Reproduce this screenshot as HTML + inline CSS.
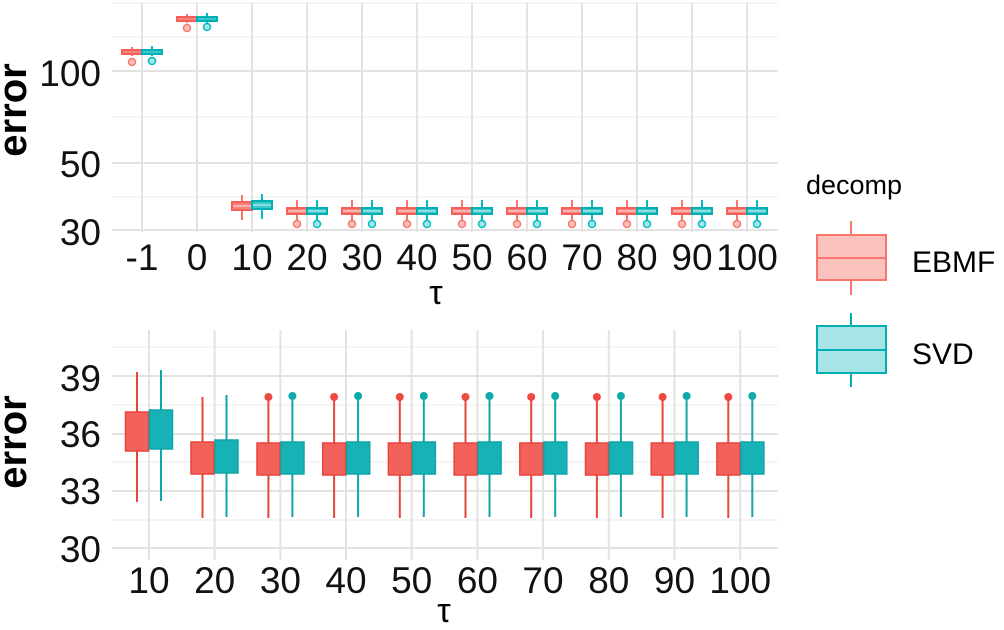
<!DOCTYPE html>
<html><head><meta charset="utf-8"><style>
html,body{margin:0;padding:0;background:#fff}
svg{display:block}
text{font-family:"Liberation Sans",sans-serif}
</style></head><body>
<svg width="1004" height="630" viewBox="0 0 1004 630" xmlns="http://www.w3.org/2000/svg">
<defs>
<g id="t20">
 <line x1="297" y1="200" x2="297" y2="220" stroke="#F8766D" stroke-width="2"/>
 <rect x="287" y="208" width="20" height="6" fill="#F7837B" stroke="#F5605A" stroke-width="2"/>
 <line x1="288" y1="211" x2="306" y2="211" stroke="#FBC1BD" stroke-width="1.5"/>
 <circle cx="297" cy="224" r="3.5" fill="#FBC1BD" stroke="#F8766D" stroke-width="1.5"/>
 <line x1="317" y1="200" x2="317" y2="220" stroke="#00BFC4" stroke-width="2"/>
 <rect x="307" y="208" width="20" height="6" fill="#3CC8CB" stroke="#00AFB3" stroke-width="2"/>
 <line x1="308" y1="211" x2="326" y2="211" stroke="#A6E4E5" stroke-width="1.5"/>
 <circle cx="317" cy="224" r="3.5" fill="#A6E4E5" stroke="#00BFC4" stroke-width="1.5"/>
</g>
<g id="b30">
 <line x1="268.4" y1="397" x2="268.4" y2="518" stroke="#E8453D" stroke-width="2"/>
 <rect x="257" y="443" width="23" height="32" fill="#F2625A" stroke="#E8453D" stroke-width="1.5"/>
 <circle cx="268.4" cy="397" r="4" fill="#EE4A42"/>
 <line x1="292.4" y1="396" x2="292.4" y2="517" stroke="#10A5A8" stroke-width="2"/>
 <rect x="281" y="442" width="23" height="32" fill="#17B2B5" stroke="#10A5A8" stroke-width="1.5"/>
 <circle cx="292.4" cy="396" r="4" fill="#10A9AC"/>
</g>
</defs>
<g stroke="#EBEBEB" stroke-width="1">
 <line x1="112" y1="3" x2="778" y2="3"/><line x1="112" y1="37" x2="778" y2="37"/><line x1="112" y1="117" x2="778" y2="117"/><line x1="112" y1="197" x2="778" y2="197"/>
</g>
<g stroke="#E3E3E3" stroke-width="2">
 <line x1="112" y1="71" x2="778" y2="71"/><line x1="112" y1="163" x2="778" y2="163"/><line x1="112" y1="230" x2="778" y2="230"/>
 <line x1="142" y1="3" x2="142" y2="232"/><line x1="197" y1="3" x2="197" y2="232"/><line x1="252" y1="3" x2="252" y2="232"/><line x1="307" y1="3" x2="307" y2="232"/><line x1="362" y1="3" x2="362" y2="232"/><line x1="417" y1="3" x2="417" y2="232"/><line x1="472" y1="3" x2="472" y2="232"/><line x1="527" y1="3" x2="527" y2="232"/><line x1="582" y1="3" x2="582" y2="232"/><line x1="637" y1="3" x2="637" y2="232"/><line x1="692" y1="3" x2="692" y2="232"/><line x1="747" y1="3" x2="747" y2="232"/>
</g>
<g>
 <line x1="132" y1="47" x2="132" y2="56" stroke="#F8766D" stroke-width="2"/>
 <rect x="122" y="50" width="20" height="4" fill="#F7837B" stroke="#F5605A" stroke-width="2"/>
 <circle cx="132" cy="62" r="3.5" fill="#FBC1BD" stroke="#F8766D" stroke-width="1.5"/>
 <line x1="152" y1="46" x2="152" y2="56" stroke="#00BFC4" stroke-width="2"/>
 <rect x="142" y="50" width="20" height="4" fill="#3CC8CB" stroke="#00AFB3" stroke-width="2"/>
 <circle cx="152" cy="61" r="3.5" fill="#A6E4E5" stroke="#00BFC4" stroke-width="1.5"/>
 <line x1="187" y1="14" x2="187" y2="23" stroke="#F8766D" stroke-width="2"/>
 <rect x="177" y="17" width="20" height="4" fill="#F7837B" stroke="#F5605A" stroke-width="2"/>
 <circle cx="187" cy="28" r="3.5" fill="#FBC1BD" stroke="#F8766D" stroke-width="1.5"/>
 <line x1="207" y1="13" x2="207" y2="23" stroke="#00BFC4" stroke-width="2"/>
 <rect x="197" y="17" width="20" height="4" fill="#3CC8CB" stroke="#00AFB3" stroke-width="2"/>
 <circle cx="207" cy="27" r="3.5" fill="#A6E4E5" stroke="#00BFC4" stroke-width="1.5"/>
 <line x1="242" y1="195" x2="242" y2="220" stroke="#F8766D" stroke-width="2"/>
 <rect x="232" y="202" width="20" height="8" fill="#F7837B" stroke="#F5605A" stroke-width="2"/>
 <line x1="233" y1="206" x2="251" y2="206" stroke="#FBC1BD" stroke-width="1.5"/>
 <line x1="262" y1="194" x2="262" y2="219" stroke="#00BFC4" stroke-width="2"/>
 <rect x="252" y="201" width="20" height="8" fill="#3CC8CB" stroke="#00AFB3" stroke-width="2"/>
 <line x1="253" y1="205" x2="271" y2="205" stroke="#A6E4E5" stroke-width="1.5"/>
</g>
<use href="#t20"/>
<use href="#t20" x="55"/><use href="#t20" x="110"/><use href="#t20" x="165"/><use href="#t20" x="220"/><use href="#t20" x="275"/><use href="#t20" x="330"/><use href="#t20" x="385"/><use href="#t20" x="440"/>
<g font-size="37" fill="#111" text-anchor="end">
 <text x="101" y="86">100</text><text x="101" y="177">50</text><text x="101" y="245">30</text>
</g>
<g font-size="37" fill="#111" text-anchor="middle">
 <text x="142" y="270">-1</text><text x="197" y="270">0</text><text x="252" y="270">10</text><text x="307" y="270">20</text><text x="362" y="270">30</text><text x="417" y="270">40</text><text x="472" y="270">50</text><text x="527" y="270">60</text><text x="582" y="270">70</text><text x="637" y="270">80</text><text x="692" y="270">90</text><text x="747" y="270">100</text>
</g>
<text x="436" y="304" font-size="34" text-anchor="middle" fill="#000">τ</text>
<text transform="translate(26,110) rotate(-90)" font-size="40" font-weight="bold" text-anchor="middle" fill="#000">error</text>
<g stroke="#EBEBEB" stroke-width="1">
 <line x1="112" y1="347" x2="778" y2="347"/><line x1="112" y1="405" x2="778" y2="405"/><line x1="112" y1="462" x2="778" y2="462"/><line x1="112" y1="520" x2="778" y2="520"/>
</g>
<g stroke="#E3E3E3" stroke-width="2">
 <line x1="112" y1="376" x2="778" y2="376"/><line x1="112" y1="434" x2="778" y2="434"/><line x1="112" y1="491" x2="778" y2="491"/><line x1="112" y1="548" x2="778" y2="548"/>
 <line x1="149" y1="330" x2="149" y2="560"/><line x1="214.7" y1="330" x2="214.7" y2="560"/><line x1="280.4" y1="330" x2="280.4" y2="560"/><line x1="346" y1="330" x2="346" y2="560"/><line x1="411.7" y1="330" x2="411.7" y2="560"/><line x1="477.4" y1="330" x2="477.4" y2="560"/><line x1="543" y1="330" x2="543" y2="560"/><line x1="608.8" y1="330" x2="608.8" y2="560"/><line x1="674.5" y1="330" x2="674.5" y2="560"/><line x1="740.2" y1="330" x2="740.2" y2="560"/>
</g>
<g>
 <line x1="137" y1="372" x2="137" y2="502" stroke="#E8453D" stroke-width="2"/>
 <rect x="125.5" y="412" width="23" height="39" fill="#F2625A" stroke="#E8453D" stroke-width="1.5"/>
 <line x1="161" y1="370" x2="161" y2="501" stroke="#10A5A8" stroke-width="2"/>
 <rect x="149.5" y="410" width="23" height="39" fill="#17B2B5" stroke="#10A5A8" stroke-width="1.5"/>
 <line x1="202.5" y1="397" x2="202.5" y2="518" stroke="#E8453D" stroke-width="2"/>
 <rect x="191" y="442" width="23" height="32" fill="#F2625A" stroke="#E8453D" stroke-width="1.5"/>
 <line x1="226.5" y1="395" x2="226.5" y2="517" stroke="#10A5A8" stroke-width="2"/>
 <rect x="215" y="440" width="23" height="33" fill="#17B2B5" stroke="#10A5A8" stroke-width="1.5"/>
</g>
<use href="#b30"/><use href="#b30" x="65.7"/><use href="#b30" x="131.4"/><use href="#b30" x="197.1"/><use href="#b30" x="262.8"/><use href="#b30" x="328.5"/><use href="#b30" x="394.2"/><use href="#b30" x="459.9"/>
<g font-size="37" fill="#111" text-anchor="end">
 <text x="101" y="391">39</text><text x="101" y="447">36</text><text x="101" y="504">33</text><text x="101" y="562">30</text>
</g>
<g font-size="37" fill="#111" text-anchor="middle">
 <text x="149" y="593">10</text><text x="214.7" y="593">20</text><text x="280.4" y="593">30</text><text x="346" y="593">40</text><text x="411.7" y="593">50</text><text x="477.4" y="593">60</text><text x="543" y="593">70</text><text x="608.8" y="593">80</text><text x="674.5" y="593">90</text><text x="740.2" y="593">100</text>
</g>
<text x="444" y="622" font-size="34" text-anchor="middle" fill="#000">τ</text>
<text transform="translate(26,442) rotate(-90)" font-size="40" font-weight="bold" text-anchor="middle" fill="#000">error</text>
<text x="806" y="194" font-size="27" fill="#000">decomp</text>
<line x1="851" y1="221" x2="851" y2="295" stroke="#F8766D" stroke-width="2"/>
<rect x="817" y="235" width="69" height="45" fill="#FBC1BD" stroke="#F8766D" stroke-width="2"/>
<line x1="817" y1="258" x2="886" y2="258" stroke="#F8766D" stroke-width="2"/>
<line x1="851" y1="313" x2="851" y2="387" stroke="#00AFB3" stroke-width="2"/>
<rect x="817" y="326" width="69" height="47" fill="#A6E4E5" stroke="#00AFB3" stroke-width="2"/>
<line x1="817" y1="350" x2="886" y2="350" stroke="#00AFB3" stroke-width="2"/>
<text x="912" y="272" font-size="30" fill="#000">EBMF</text>
<text x="912" y="364" font-size="30" fill="#000">SVD</text>
</svg>
</body></html>
